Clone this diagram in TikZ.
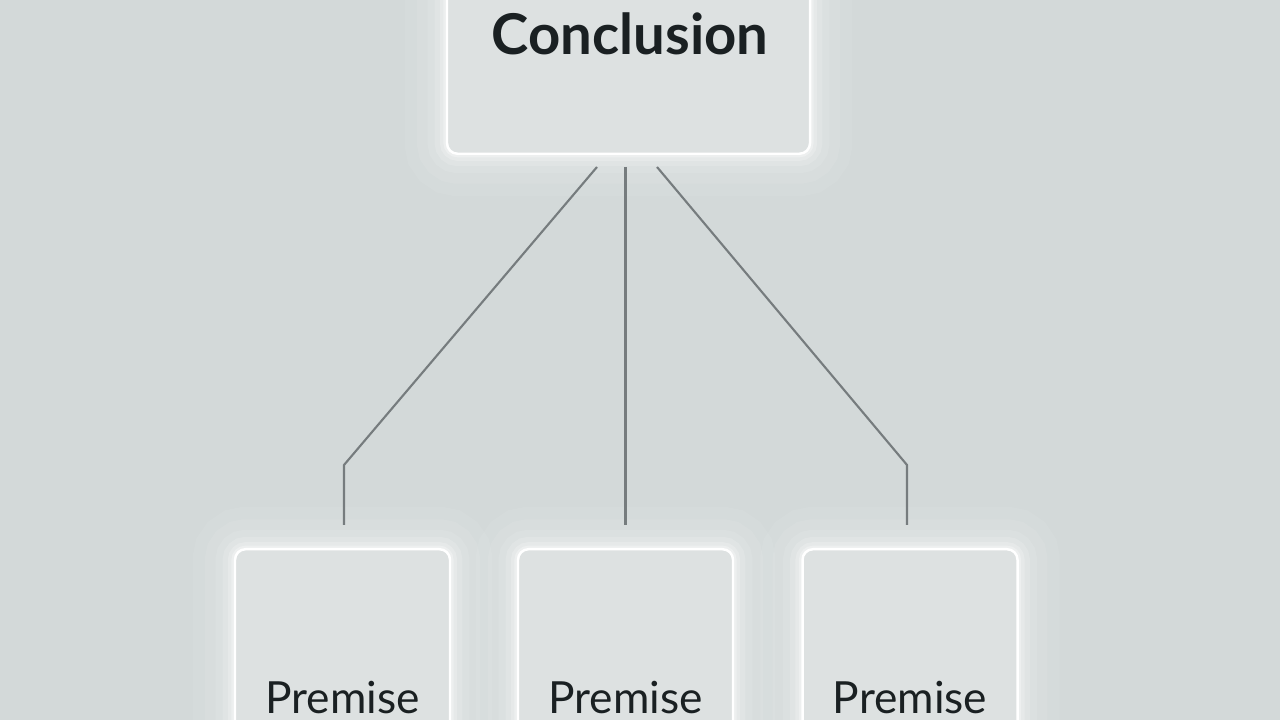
\documentclass[tikz,border=0pt]{standalone}
\usepackage{fontspec}
\setmainfont{Lato}
\definecolor{bgc}{RGB}{211,217,217}
\definecolor{boxc}{RGB}{221,225,225}
\definecolor{linkc}{RGB}{118,124,126}
\definecolor{txtc}{RGB}{26,32,34}
\tikzset{
  glowbox/.style={rectangle, rounded corners=3pt, fill=boxc, draw=white, line width=0.7pt,
    preaction={draw=white, line width=24pt, opacity=0.06},
    preaction={draw=white, line width=17pt, opacity=0.08},
    preaction={draw=white, line width=11pt, opacity=0.1},
    preaction={draw=white, line width=7pt, opacity=0.14},
    preaction={draw=white, line width=4pt, opacity=0.2},
    preaction={draw=white, line width=2pt, opacity=0.3}},
  premisebox/.style={glowbox, minimum width=2.15cm, minimum height=2.4cm, anchor=north},
  premtext/.style={font=\fontsize{12.6}{15}\selectfont, text=txtc, anchor=base, inner sep=0pt, text depth=0pt},
  link/.style={draw=linkc, line width=0.6pt}
}
\begin{document}
\begin{tikzpicture}
        \useasboundingbox (0,0) rectangle (12.8,7.2);
        \clip (0,0) rectangle (12.8,7.2);
        \fill[bgc] (0,0) rectangle (12.8,7.2);

        \node[glowbox, minimum width=3.63cm, minimum height=1.9cm, anchor=south] (concl) at (6.285, 5.65) {};
        \node[font=\fontsize{16}{19}\selectfont\bfseries, text=txtc, anchor=base] (concltxt) at (6.3, 6.65) {Conclusion};

        \node[premisebox] (pl) at (3.425, 1.72) {};
        \node[premisebox] (pm) at (6.255, 1.72) {};
        \node[premisebox] (pr) at (9.1, 1.72) {};

        \node[premtext] (pltxt) at ([yshift=-1.66cm]pl.north) {Premise};
        \node[premtext] (pmtxt) at ([yshift=-1.66cm]pm.north) {Premise};
        \node[premtext] (prtxt) at ([yshift=-1.66cm]pr.north) {Premise};

        % links from the conclusion down to each premise
        \draw[link] ([xshift=-3.15mm,yshift=-1.2mm]concl.south) -- ([xshift=0.15mm,yshift=8.3mm]pl.north) -- ([xshift=0.15mm,yshift=2.3mm]pl.north);
        \draw[link] ([yshift=-1.2mm]concl.south -| pm.north) -- ([yshift=2.3mm]pm.north);
        \draw[link] ([xshift=2.85mm,yshift=-1.2mm]concl.south) -- ([xshift=-0.3mm,yshift=8.3mm]pr.north) -- ([xshift=-0.3mm,yshift=2.3mm]pr.north);

    \end{tikzpicture}
\end{document}
